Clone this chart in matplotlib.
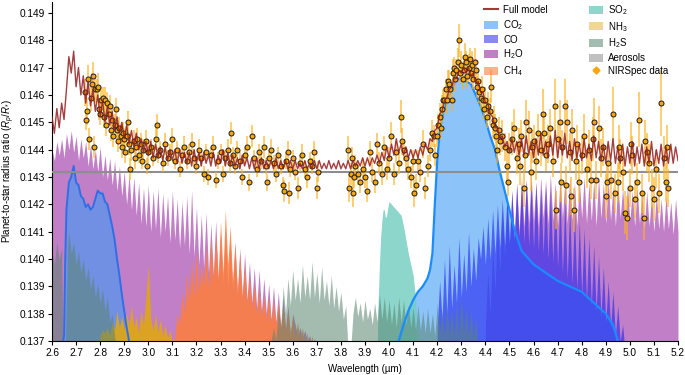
import numpy as np
import matplotlib
matplotlib.use("Agg")
import matplotlib.pyplot as plt
from matplotlib.patches import Patch
from matplotlib.lines import Line2D

plt.rcParams.update({
    'font.size': 7,
    'font.family': ['Liberation Sans', 'DejaVu Sans'],
    'mathtext.fontset': 'custom',
    'mathtext.rm': 'Liberation Sans',
    'mathtext.it': 'Liberation Sans:italic',
})

# ---- NIRSpec data points (wavelength in um, Rp/R*, error in units of 1e-4)
data_wl = [
    2.735, 2.740, 2.745, 2.750, 2.755, 2.760, 2.765, 2.770, 2.775, 2.780,
    2.785, 2.790, 2.795, 2.800, 2.805, 2.810, 2.815, 2.820, 2.825, 2.830,
    2.835, 2.840, 2.845, 2.850, 2.855, 2.860, 2.865, 2.870, 2.875, 2.880,
    2.885, 2.890, 2.895, 2.900, 2.905, 2.910, 2.915, 2.920, 2.925, 2.930,
    2.940, 2.945, 2.950, 2.955, 2.960, 2.970, 2.975, 2.980, 2.990, 2.995,
    3.000, 3.010, 3.020, 3.030, 3.035, 3.040, 3.050, 3.060, 3.070, 3.080,
    3.090, 3.100, 3.110, 3.120, 3.130, 3.140, 3.150, 3.160, 3.170, 3.180,
    3.190, 3.200, 3.210, 3.220, 3.230, 3.240, 3.250, 3.260, 3.270, 3.280,
    3.290, 3.300, 3.310, 3.320, 3.330, 3.340, 3.345, 3.350, 3.360, 3.370,
    3.380, 3.390, 3.400, 3.410, 3.420, 3.430, 3.440, 3.450, 3.460, 3.470,
    3.480, 3.490, 3.495, 3.500, 3.510, 3.520, 3.530, 3.540, 3.550, 3.560,
    3.565, 3.570, 3.580, 3.585, 3.590, 3.600, 3.610, 3.620, 3.630, 3.640,
    3.650, 3.660, 3.670, 3.680, 3.690, 3.700, 3.705,
    3.830, 3.835, 3.840, 3.845, 3.850, 3.855, 3.860, 3.870, 3.880, 3.890,
    3.900, 3.910, 3.920, 3.930, 3.940, 3.950, 3.960, 3.970, 3.980, 3.990,
    4.000, 4.010, 4.020, 4.030, 4.040, 4.050, 4.055, 4.060, 4.070, 4.080,
    4.090, 4.100, 4.105, 4.110, 4.120, 4.130, 4.140, 4.150, 4.160, 4.170,
    4.180, 4.185, 4.190,
    4.200, 4.205, 4.210, 4.215, 4.220, 4.225, 4.230, 4.235, 4.240, 4.245,
    4.250, 4.255, 4.260, 4.265, 4.270, 4.275, 4.280, 4.285, 4.290, 4.295,
    4.300, 4.305, 4.310, 4.315, 4.320, 4.325, 4.330, 4.335, 4.340, 4.345,
    4.350, 4.355, 4.360, 4.365, 4.370, 4.375, 4.380, 4.385, 4.390, 4.395,
    4.400, 4.405, 4.410, 4.420, 4.425, 4.430, 4.435, 4.440, 4.445, 4.450,
    4.455, 4.460, 4.470, 4.480, 4.490, 4.495, 4.500,
    4.510, 4.520, 4.530, 4.540, 4.545, 4.550, 4.560, 4.565, 4.570, 4.580,
    4.590, 4.595, 4.600, 4.610, 4.620, 4.630, 4.640, 4.645, 4.650, 4.660,
    4.670, 4.680, 4.690, 4.695, 4.700, 4.710, 4.715, 4.720, 4.730, 4.735,
    4.740, 4.750, 4.755, 4.760, 4.770, 4.775, 4.780, 4.790, 4.800, 4.810,
    4.820, 4.830, 4.840, 4.845, 4.850, 4.860, 4.870, 4.880, 4.890, 4.900,
    4.905, 4.910, 4.920, 4.930, 4.940, 4.950, 4.955, 4.960, 4.970, 4.980,
    4.990, 5.000, 5.005, 5.010, 5.020, 5.030, 5.040, 5.050, 5.060, 5.065,
    5.070, 5.080, 5.090, 5.100, 5.110, 5.120, 5.130, 5.140, 5.150, 5.155,
    5.160,
]
data_val = [
    0.1461, 0.1451, 0.1454, 0.1466, 0.1444, 0.1459, 0.1464, 0.1467, 0.1441, 0.1462,
    0.1462, 0.1463, 0.1455, 0.1453, 0.1458, 0.1459, 0.1452, 0.1458, 0.1449, 0.1457,
    0.1453, 0.1456, 0.1447, 0.1451, 0.1445, 0.1449, 0.1455, 0.1447, 0.1443, 0.1448,
    0.1445, 0.1441, 0.1446, 0.1444, 0.1439, 0.1445, 0.1450, 0.1442, 0.1433, 0.1440,
    0.1443, 0.1437, 0.1441, 0.1444, 0.1438, 0.1442, 0.1436, 0.1440, 0.1443, 0.1434,
    0.1439, 0.1441, 0.1437, 0.1444, 0.1449, 0.1438, 0.1440, 0.1435, 0.1442, 0.1437,
    0.1439, 0.1444, 0.1436, 0.1440, 0.1433, 0.1438, 0.1441, 0.1436, 0.1439, 0.1442,
    0.1437, 0.1434, 0.1440, 0.1437, 0.1431, 0.1439, 0.1430, 0.1438, 0.1441, 0.1429,
    0.1436, 0.1439, 0.1431, 0.1437, 0.1440, 0.1435, 0.1446, 0.1438, 0.1434, 0.1440,
    0.1436, 0.1430, 0.1438, 0.1441, 0.1428, 0.1445, 0.1437, 0.1433, 0.1439, 0.1436,
    0.1441, 0.1434, 0.1428, 0.1437, 0.1440, 0.1435, 0.1431, 0.1438, 0.1434, 0.1427,
    0.1425, 0.1436, 0.1439, 0.1424, 0.1433, 0.1437, 0.1432, 0.1426, 0.1435, 0.1438,
    0.1433, 0.1430, 0.1436, 0.1434, 0.1439, 0.1426, 0.1432,
    0.1440, 0.1426, 0.1431, 0.1437, 0.1424, 0.1430, 0.1434, 0.1431, 0.1428, 0.1433,
    0.1430, 0.1425, 0.1439, 0.1432, 0.1428, 0.1442, 0.1435, 0.1431, 0.1441, 0.1433,
    0.1437, 0.1445, 0.1431, 0.1439, 0.1435, 0.1452, 0.1443, 0.1440, 0.1437, 0.1433,
    0.1430, 0.1436, 0.1424, 0.1427, 0.1436, 0.1432, 0.1442, 0.1426, 0.1434, 0.1440,
    0.1446, 0.1445, 0.1438,
    0.1445, 0.1449, 0.1452, 0.1448, 0.1455, 0.1458, 0.1458, 0.1462, 0.1458, 0.1465,
    0.1464, 0.1462, 0.1458, 0.1468, 0.1470, 0.1466, 0.1469, 0.1472, 0.1480, 0.1468,
    0.1471, 0.1466, 0.1469, 0.1474, 0.1472, 0.1467, 0.1470, 0.1473, 0.1468, 0.1471,
    0.1466, 0.1472, 0.1469, 0.1463, 0.1465, 0.1461, 0.1459, 0.1462, 0.1458, 0.1455,
    0.1458, 0.1452, 0.1456, 0.1454, 0.1463, 0.1449, 0.1451, 0.1448, 0.1445, 0.1440,
    0.1447, 0.1443, 0.1445, 0.1441, 0.1434, 0.1428, 0.1440,
    0.1444, 0.1448, 0.1437, 0.1442, 0.1434, 0.1445, 0.1426, 0.1438, 0.1450, 0.1447,
    0.1432, 0.1441, 0.1443, 0.1436, 0.1446, 0.1440, 0.1453, 0.1446, 0.1438, 0.1442,
    0.1448, 0.1436, 0.1456, 0.1418, 0.1444, 0.1450, 0.1428, 0.1441, 0.1456, 0.1427,
    0.1450, 0.1439, 0.1423, 0.1447, 0.1418, 0.1436, 0.1442, 0.1428, 0.1438, 0.1445,
    0.1433, 0.1440, 0.1429, 0.1444, 0.1450, 0.1429, 0.1448, 0.1437, 0.1441, 0.1423,
    0.1428, 0.1435, 0.1429, 0.1453, 0.1424, 0.1428, 0.1441, 0.1437, 0.1432, 0.1417,
    0.1415, 0.1426, 0.1442, 0.1438, 0.1422, 0.1428, 0.1451, 0.1424, 0.1415, 0.1443,
    0.1439, 0.1435, 0.1426, 0.1422, 0.1433, 0.1424, 0.1457, 0.1437, 0.1428, 0.1441,
    0.1426,
]
data_err = [
    5, 4, 5, 5, 4, 5, 4, 5, 4, 5,
    4, 5, 4, 4, 5, 4, 4, 5, 4, 4,
    4, 4, 4, 5, 4, 4, 4, 4, 4, 4,
    4, 4, 4, 4, 4, 4, 4, 4, 4, 4,
    4, 4, 4, 4, 3, 4, 3, 4, 4, 3,
    4, 3, 3, 4, 4, 3, 3, 3, 4, 3,
    3, 4, 3, 3, 3, 3, 4, 3, 3, 4,
    3, 3, 4, 3, 3, 3, 3, 3, 4, 3,
    3, 3, 3, 3, 4, 3, 4, 3, 3, 3,
    3, 3, 3, 4, 3, 4, 3, 3, 3, 3,
    4, 3, 3, 3, 4, 3, 3, 3, 3, 3,
    4, 3, 4, 4, 3, 3, 3, 4, 3, 4,
    3, 4, 3, 3, 4, 4, 4,
    5, 5, 4, 4, 5, 4, 4, 4, 4, 4,
    4, 4, 4, 4, 4, 4, 4, 4, 4, 4,
    4, 5, 4, 4, 4, 6, 5, 4, 4, 4,
    4, 4, 5, 4, 4, 4, 5, 4, 4, 4,
    5, 4, 4,
    4, 4, 5, 4, 5, 4, 5, 4, 5, 4,
    5, 4, 4, 5, 4, 5, 4, 5, 6, 4,
    5, 4, 4, 5, 4, 4, 5, 4, 4, 5,
    4, 5, 4, 4, 5, 4, 4, 5, 4, 4,
    5, 4, 5, 5, 6, 5, 5, 5, 5, 5,
    5, 5, 6, 5, 6, 5, 6,
    6, 7, 6, 6, 7, 6, 7, 6, 8, 7,
    7, 6, 6, 7, 7, 6, 9, 7, 6, 7,
    7, 6, 10, 7, 7, 8, 7, 6, 10, 7,
    8, 7, 7, 8, 8, 7, 7, 7, 7, 8,
    7, 7, 7, 8, 9, 7, 8, 7, 7, 8,
    7, 7, 7, 10, 7, 7, 8, 7, 7, 8,
    8, 7, 8, 7, 7, 7, 10, 7, 8, 8,
    7, 7, 7, 8, 7, 7, 12, 8, 7, 8,
    7,
]

# ---- Full model, 0.01 um grid from 2.60 um
model_start = 2.60
model_val = [
    0.1452, 0.1446, 0.1455, 0.1448, 0.1457, 0.1451, 0.1462, 0.1474, 0.1468, 0.1476,
    0.1463, 0.1470, 0.1460, 0.1467, 0.1457, 0.1465, 0.1456, 0.1462, 0.1454, 0.1460,
    0.1452, 0.1458, 0.1450, 0.1456, 0.1449, 0.1454, 0.1447, 0.1452, 0.1446, 0.1450,
    0.1444, 0.1449, 0.1442, 0.1447, 0.1441, 0.1446, 0.1440, 0.1444, 0.1439, 0.1443,
    0.1438, 0.1443, 0.1437, 0.1442, 0.1437, 0.1441, 0.1436, 0.1441, 0.1436, 0.1440,
    0.1436, 0.1440, 0.1435, 0.1440, 0.1435, 0.1439, 0.1435, 0.1439, 0.1434, 0.1440,
    0.1435, 0.1439, 0.1434, 0.1439, 0.1435, 0.1438, 0.1434, 0.1439, 0.1434, 0.1438,
    0.1435, 0.1440, 0.1434, 0.1439, 0.1434, 0.1438, 0.1434, 0.1437, 0.1433, 0.1438,
    0.1434, 0.1437, 0.1433, 0.1437, 0.1433, 0.1437, 0.1433, 0.1437, 0.1433, 0.1436,
    0.1433, 0.1436, 0.1433, 0.1437, 0.1433, 0.1436, 0.1433, 0.1436, 0.1433, 0.1436,
    0.1433, 0.1436, 0.1433, 0.1435, 0.1433, 0.1436, 0.1433, 0.1435, 0.1433, 0.1436,
    0.1433, 0.1436, 0.1433, 0.1435, 0.1433, 0.1436, 0.1433, 0.1435, 0.1433, 0.1436,
    0.1433, 0.1435, 0.1433, 0.1436, 0.1433, 0.1436, 0.1434, 0.1436, 0.1434, 0.1437,
    0.1434, 0.1437, 0.1434, 0.1437, 0.1435, 0.1438, 0.1435, 0.1439, 0.1436, 0.1441,
    0.1437, 0.1442, 0.1438, 0.1444, 0.1439, 0.1442, 0.1438, 0.1441, 0.1437, 0.1440,
    0.1437, 0.1440, 0.1437, 0.1441, 0.1438, 0.1442, 0.1440, 0.1444, 0.1443, 0.1447,
    0.1448, 0.1453, 0.1454, 0.1458, 0.1459, 0.1462, 0.1463, 0.1466, 0.1466, 0.1469,
    0.1468, 0.1470, 0.1468, 0.1470, 0.1467, 0.1468, 0.1464, 0.1465, 0.1461, 0.1461,
    0.1457, 0.1457, 0.1453, 0.1452, 0.1448, 0.1448, 0.1444, 0.1445, 0.1441, 0.1443,
    0.1439, 0.1444, 0.1439, 0.1443, 0.1438, 0.1444, 0.1438, 0.1445, 0.1438, 0.1443,
    0.1437, 0.1444, 0.1438, 0.1446, 0.1438, 0.1443, 0.1437, 0.1445, 0.1438, 0.1447,
    0.1437, 0.1444, 0.1438, 0.1446, 0.1437, 0.1443, 0.1436, 0.1444, 0.1437, 0.1442,
    0.1436, 0.1444, 0.1437, 0.1442, 0.1436, 0.1445, 0.1437, 0.1443, 0.1436, 0.1442,
    0.1435, 0.1443, 0.1436, 0.1444, 0.1435, 0.1441, 0.1435, 0.1442, 0.1434, 0.1441,
    0.1435, 0.1443, 0.1434, 0.1441, 0.1435, 0.1442, 0.1434, 0.1441, 0.1435, 0.1443,
    0.1434, 0.1440, 0.1435, 0.1442, 0.1434, 0.1441, 0.1435, 0.1442, 0.1435, 0.1441,
    0.1436,
]

# ---- Individual contributions
h2o_a_start = 2.60
h2o_a_val = [
    0.1440, 0.1436, 0.1443, 0.1438, 0.1444, 0.1437, 0.1446, 0.1440, 0.1447, 0.1439,
    0.1445, 0.1436, 0.1444, 0.1437, 0.1443, 0.1434, 0.1442, 0.1433, 0.1440, 0.1432,
    0.1441, 0.1430, 0.1438, 0.1429, 0.1437, 0.1427, 0.1436, 0.1425, 0.1434, 0.1423,
    0.1432, 0.1420, 0.1431, 0.1418, 0.1430, 0.1416, 0.1428, 0.1413, 0.1426, 0.1412,
    0.1427, 0.1410, 0.1425, 0.1411, 0.1426, 0.1408, 0.1424, 0.1410, 0.1423, 0.1406,
    0.1425, 0.1407, 0.1422, 0.1404, 0.1421, 0.1405, 0.1423, 0.1402, 0.1425, 0.1401,
    0.1419, 0.1398, 0.1416, 0.1397, 0.1417, 0.1395, 0.1413, 0.1394, 0.1414, 0.1392,
    0.1410, 0.1391, 0.1411, 0.1390, 0.1407, 0.1389, 0.1406, 0.1387, 0.1404, 0.1386,
    0.1402, 0.1385, 0.1399, 0.1384, 0.1397, 0.1382, 0.1396, 0.1381, 0.1393, 0.1380,
    0.1391, 0.1378, 0.1390, 0.1377, 0.1388, 0.1375, 0.1386, 0.1374, 0.1383, 0.1372,
    0.1380, 0.1376, 0.1372, 0.1375, 0.1371, 0.1374, 0.1370, 0.1372, 0.1369, 0.1371,
    0.1368, 0.1370, 0.1368, 0.1369, 0.1367, 0.1366,
]
h2o_b_start = 4.40
h2o_b_val = [
    0.1375, 0.1395, 0.1380, 0.1405, 0.1388, 0.1412, 0.1395, 0.1418, 0.1400, 0.1422,
    0.1405, 0.1425, 0.1408, 0.1428, 0.1410, 0.1430, 0.1412, 0.1429, 0.1413, 0.1431,
    0.1414, 0.1428, 0.1412, 0.1430, 0.1415, 0.1429, 0.1413, 0.1431, 0.1414, 0.1428,
    0.1412, 0.1430, 0.1415, 0.1429, 0.1413, 0.1430, 0.1414, 0.1428, 0.1412, 0.1429,
    0.1415, 0.1430, 0.1413, 0.1428, 0.1414, 0.1429, 0.1412, 0.1430, 0.1415, 0.1428,
    0.1413, 0.1429, 0.1414, 0.1427, 0.1412, 0.1428, 0.1415, 0.1426, 0.1413, 0.1427,
    0.1414, 0.1425, 0.1412, 0.1426, 0.1413, 0.1424, 0.1411, 0.1425, 0.1412, 0.1423,
    0.1410, 0.1424, 0.1411, 0.1422, 0.1410, 0.1423, 0.1411, 0.1421, 0.1409, 0.1422,
    0.1410,
]

co2_a_wl = [2.640, 2.650, 2.655, 2.660, 2.670, 2.680, 2.690, 2.700, 2.710, 2.720,
            2.730, 2.740, 2.750, 2.760, 2.770, 2.780, 2.790, 2.800, 2.810, 2.820,
            2.830, 2.840, 2.850, 2.860, 2.870, 2.880, 2.890, 2.900, 2.910, 2.920, 2.930]
co2_a_val = [0.1366, 0.1372, 0.1400, 0.1418, 0.1428, 0.1430, 0.1434, 0.1428, 0.1427, 0.1423,
             0.1422, 0.1419, 0.1420, 0.1418, 0.1419, 0.1422, 0.1425, 0.1424, 0.1424, 0.1421,
             0.1420, 0.1416, 0.1412, 0.1407, 0.1400, 0.1394, 0.1387, 0.1381, 0.1375, 0.1370, 0.1366]
co2_b_wl = [4.030, 4.040, 4.060, 4.080, 4.100, 4.120, 4.140, 4.160, 4.170, 4.180,
            4.190, 4.200, 4.210, 4.220, 4.240, 4.260, 4.280, 4.300, 4.320, 4.340,
            4.360, 4.380, 4.400, 4.420, 4.440, 4.460, 4.480, 4.500, 4.520, 4.550,
            4.600, 4.650, 4.700, 4.750, 4.800, 4.850, 4.900, 4.930, 4.950, 4.970]
co2_b_val = [0.1366, 0.1370, 0.1376, 0.1381, 0.1385, 0.1388, 0.1390, 0.1393, 0.1396, 0.1402,
             0.1420, 0.1436, 0.1446, 0.1452, 0.1458, 0.1462, 0.1466, 0.1466, 0.1465, 0.1464,
             0.1460, 0.1456, 0.1451, 0.1445, 0.1440, 0.1432, 0.1425, 0.1418, 0.1411, 0.1403,
             0.1398, 0.1395, 0.1392, 0.1390, 0.1388, 0.1384, 0.1380, 0.1376, 0.1370, 0.1366]

co_start = 4.20
co_val = [
    0.1375, 0.1392, 0.1378, 0.1400, 0.1380, 0.1405, 0.1382, 0.1398, 0.1384, 0.1408,
    0.1386, 0.1402, 0.1388, 0.1410, 0.1390, 0.1404, 0.1392, 0.1408, 0.1400, 0.1412,
    0.1398, 0.1415, 0.1400, 0.1418, 0.1402, 0.1420, 0.1404, 0.1422, 0.1405, 0.1424,
    0.1406, 0.1425, 0.1407, 0.1427, 0.1408, 0.1428, 0.1406, 0.1429, 0.1405, 0.1427,
    0.1404, 0.1428, 0.1403, 0.1426, 0.1402, 0.1427, 0.1400, 0.1425, 0.1399, 0.1424,
    0.1397, 0.1423, 0.1395, 0.1421, 0.1393, 0.1419, 0.1391, 0.1417, 0.1389, 0.1414,
    0.1387, 0.1411, 0.1385, 0.1408, 0.1383, 0.1405, 0.1381, 0.1401, 0.1379, 0.1397,
    0.1377, 0.1392, 0.1375, 0.1388, 0.1372, 0.1383, 0.1370, 0.1376, 0.1366,
]

ch4_start = 3.10
ch4_val = [
    0.1366, 0.1372, 0.1380, 0.1376, 0.1388, 0.1380, 0.1395, 0.1384, 0.1400, 0.1386,
    0.1403, 0.1388, 0.1398, 0.1390, 0.1405, 0.1389, 0.1408, 0.1392, 0.1410, 0.1393,
    0.1414, 0.1395, 0.1418, 0.1398, 0.1412, 0.1392, 0.1406, 0.1388, 0.1402, 0.1386,
    0.1398, 0.1384, 0.1394, 0.1382, 0.1391, 0.1380, 0.1389, 0.1379, 0.1387, 0.1378,
    0.1386, 0.1377, 0.1385, 0.1376, 0.1384, 0.1375, 0.1382, 0.1374, 0.1381, 0.1373,
    0.1379, 0.1371, 0.1377, 0.1370, 0.1375, 0.1368, 0.1373, 0.1367, 0.1372, 0.1366,
]

so2_wl = [3.950, 3.955, 3.960, 3.965, 3.970, 3.975, 3.980, 3.985, 3.990, 3.995,
          4.000, 4.010, 4.020, 4.030, 4.040, 4.050, 4.060, 4.070, 4.080, 4.090,
          4.100, 4.110, 4.120]
so2_val = [0.1366, 0.1385, 0.1398, 0.1408, 0.1414, 0.1418, 0.1418, 0.1415, 0.1416, 0.1419,
           0.1421, 0.1420, 0.1419, 0.1418, 0.1417, 0.1416, 0.1412, 0.1407, 0.1402, 0.1398,
           0.1394, 0.1386, 0.1366]

nh3_start = 2.79
nh3_val = [
    0.1366,
    0.1372, 0.1374, 0.1373, 0.1375, 0.1372, 0.1377, 0.1374, 0.1381, 0.1375, 0.1379,
    0.1374, 0.1380, 0.1376, 0.1383, 0.1375, 0.1379, 0.1373, 0.1381, 0.1376, 0.1386,
    0.1398, 0.1378, 0.1374, 0.1380, 0.1373, 0.1378, 0.1372, 0.1376, 0.1371, 0.1374,
    0.1369, 0.1371, 0.1366,
]

h2s_a_wl = [2.600, 2.610, 2.620, 2.630, 2.640, 2.645, 2.655, 2.665, 2.670, 2.680,
            2.690, 2.700, 2.710, 2.720, 2.730, 2.740, 2.750, 2.760, 2.770, 2.780,
            2.790, 2.800, 2.810, 2.820, 2.830, 2.840, 2.850, 2.860, 2.870]
h2s_a_val = [0.1403, 0.1398, 0.1406, 0.1400, 0.1404, 0.1370, 0.1366, 0.1405, 0.1410, 0.1402,
             0.1406, 0.1398, 0.1403, 0.1395, 0.1400, 0.1392, 0.1397, 0.1389, 0.1394, 0.1386,
             0.1391, 0.1384, 0.1389, 0.1381, 0.1386, 0.1377, 0.1380, 0.1372, 0.1366]
h2s_b_start = 3.50
h2s_b_val = [
    0.1366, 0.1370, 0.1375, 0.1370, 0.1382, 0.1375, 0.1390, 0.1380, 0.1393, 0.1383,
    0.1396, 0.1385, 0.1393, 0.1384, 0.1398, 0.1386, 0.1394, 0.1385, 0.1399, 0.1386,
    0.1395, 0.1384, 0.1397, 0.1385, 0.1392, 0.1383, 0.1394, 0.1382, 0.1390, 0.1381,
    0.1388, 0.1378, 0.1383, 0.1366, 0.1366, 0.1380, 0.1386, 0.1379, 0.1384, 0.1377,
    0.1385, 0.1378, 0.1382, 0.1376, 0.1384, 0.1377, 0.1387, 0.1378, 0.1386, 0.1377,
    0.1385, 0.1376, 0.1384, 0.1375, 0.1386, 0.1377, 0.1385, 0.1376, 0.1383, 0.1375,
    0.1382, 0.1374, 0.1383, 0.1374, 0.1381, 0.1373, 0.1382, 0.1373, 0.1380, 0.1372,
    0.1384, 0.1373, 0.1381, 0.1372, 0.1383, 0.1373, 0.1382, 0.1372, 0.1384, 0.1372,
    0.1386, 0.1373, 0.1383, 0.1372, 0.1381, 0.1371, 0.1379, 0.1366,
]

aerosol_level = 0.14320

x_ticks = [round(2.6 + 0.1 * i, 1) for i in range(27)]
y_ticks = [0.137 + 0.001 * i for i in range(13)]

# colours
c_model = "#931c20"
c_co2, a_co2 = "#3f9df7", 0.6
c_co, a_co = "#2626f2", 0.62
c_h2o, a_h2o = "#a84eb0", 0.72
c_ch4, a_ch4 = "#ff7e3b", 0.85
c_so2, a_so2 = "#70ccbe", 0.8
c_nh3, a_nh3 = "#e0a810", 0.9
c_h2s, a_h2s = "#5a8470", 0.55
c_aer = "#8e8e8e"
c_data = "#f9a602"


def grid(start, vals):
    return np.round(start + 0.01 * np.arange(len(vals)), 3)


base = 0.136

fig = plt.figure(figsize=(6.85, 3.75), dpi=100)
ax = fig.add_axes([52/685, 34/375, 626/685, 339/375])

# molecule contributions
ax.fill_between(grid(h2o_a_start, h2o_a_val), base, h2o_a_val, color=c_h2o, alpha=a_h2o, lw=0)
ax.fill_between(grid(h2o_b_start, h2o_b_val), base, h2o_b_val, color=c_h2o, alpha=a_h2o, lw=0)
ax.fill_between(co2_a_wl, base, co2_a_val, color=c_co2, alpha=a_co2, lw=0)
ax.fill_between(co2_b_wl, base, co2_b_val, color=c_co2, alpha=a_co2, lw=0)
ax.plot(co2_a_wl, co2_a_val, color="#2f6fe6", lw=1.4)
ax.plot(co2_b_wl, co2_b_val, color="#1a8cff", lw=1.6)
ax.fill_between(grid(co_start, co_val), base, co_val, color=c_co, alpha=a_co, lw=0)
ax.fill_between(grid(ch4_start, ch4_val), base, ch4_val, color=c_ch4, alpha=a_ch4, lw=0)
ax.fill_between(grid(nh3_start, nh3_val), base, nh3_val, color=c_nh3, alpha=a_nh3, lw=0)
ax.fill_between(so2_wl, base, so2_val, color=c_so2, alpha=a_so2, lw=0)
ax.fill_between(h2s_a_wl, base, h2s_a_val, color=c_h2s, alpha=a_h2s, lw=0)
ax.fill_between(grid(h2s_b_start, h2s_b_val), base, h2s_b_val, color=c_h2s, alpha=a_h2s, lw=0)

ax.axhline(aerosol_level, color=c_aer, lw=1.5, zorder=3)

# data
ax.errorbar(
    data_wl, data_val,
    yerr=np.array(data_err) * 1e-4,
    fmt="o", ms=3.6,
    mfc=c_data, mec="#1a1a1a", mew=0.7,
    ecolor=(1.0, 0.69, 0.12, 0.8), elinewidth=1.1, capsize=0,
    zorder=4,
)

# full model on top
ax.plot(grid(model_start, model_val), model_val, color=c_model, lw=1.0, alpha=0.85, zorder=5)

ax.set_xlim(2.6, 5.2)
ax.set_ylim(0.137, 0.1494)
ax.set_xticks(x_ticks)
ax.set_xticklabels([f"{t:.1f}" for t in x_ticks])
ax.set_yticks(y_ticks)
ax.set_yticklabels([f"{t:.3f}" for t in y_ticks])
ax.tick_params(direction="out", length=3, width=0.8, pad=2, labelsize=7.3)
for side in ["top", "right"]:
    ax.spines[side].set_visible(False)
for side in ["left", "bottom"]:
    ax.spines[side].set_linewidth(0.8)

ax.set_xlabel("Wavelength (µm)", labelpad=4)
ax.set_ylabel(r"Planet-to-star radius ratio ($R_{p}/R_{*}$)", labelpad=2)

handles = [
    Line2D([], [], color="#a33a3a", lw=1.5),
    Patch(facecolor="#3f9df7", alpha=0.6),
    Patch(facecolor="#3a3af0", alpha=0.6),
    Patch(facecolor=c_h2o, alpha=a_h2o),
    Patch(facecolor=c_ch4, alpha=0.6),
    Patch(facecolor=c_so2, alpha=a_so2),
    Patch(facecolor=c_nh3, alpha=0.45),
    Patch(facecolor=c_h2s, alpha=a_h2s),
    Patch(facecolor="#c0c0c0"),
    Line2D([], [], marker="D", ms=3.5, color=c_data, mec=c_data, ls="none"),
]
labels = ["Full model", "CO$_2$", "CO", "H$_2$O", "CH$_4$",
          "SO$_2$", "NH$_3$", "H$_2$S", "Aerosols", "NIRSpec data"]
fig.legend(handles, labels, ncol=2, loc="upper left",
           bbox_to_anchor=(484/685, 1 - 3/375), frameon=False,
           handlelength=1.4, handleheight=0.9, handletextpad=0.6,
           labelspacing=0.3, columnspacing=4.2, borderaxespad=0, borderpad=0)

fig.savefig("out.png", dpi=100)
